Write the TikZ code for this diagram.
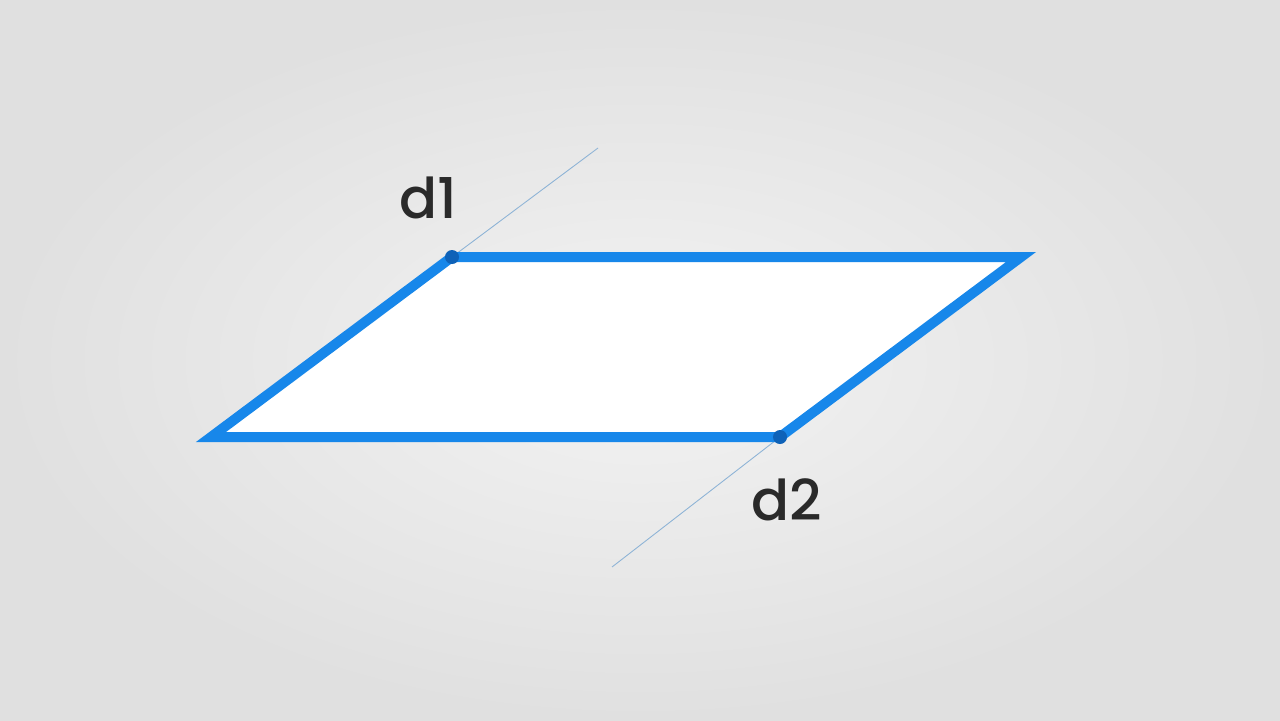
\documentclass[tikz,border=0pt]{standalone}
\usepackage{fontspec}
\setmainfont{Poppins}[UprightFont=* Medium]
\begin{document}
\begin{tikzpicture}[x=0.02cm,y=-0.02cm,
  edge/.style={draw=paraBlue,line width=0.2cm,line join=miter,miter limit=20},
  guide/.style={draw=guideBlue,line width=0.5pt},
  vdot/.style={fill=dotBlue},
  lbl/.style={text=labelGray,font=\fontsize{32}{36}\selectfont,inner sep=0pt}]
\definecolor{paraBlue}{HTML}{1787EA}
\definecolor{dotBlue}{HTML}{0E62B8}
\definecolor{guideBlue}{HTML}{8DB3D6}
\definecolor{labelGray}{HTML}{2A2A2A}
\definecolor{bgIn}{HTML}{F3F3F3}
\definecolor{bgOut}{HTML}{E0E0E0}
\useasboundingbox (0,0) rectangle (1280,720);
\shade[inner color=bgIn,outer color=bgOut] (0,0) rectangle (1280,720);
\coordinate (tl) at (452,257);
\coordinate (tr) at (1021,257);
\coordinate (br) at (780,437);
\coordinate (bl) at (211,437);
\coordinate (g1) at (598,148);
\coordinate (g2) at (612,567);
\draw[guide] (tl) -- (g1);
\draw[guide] (br) -- (g2);
\filldraw[edge,fill=white] (tl) -- (tr) -- (br) -- (bl) -- cycle;
\fill[vdot] (tl) circle (7);
\fill[vdot] (br) circle (7);
\node[lbl] (d1) at (428,198) {d1};
\node[lbl] (d2) at (787,500) {d2};
\end{tikzpicture}
\end{document}
